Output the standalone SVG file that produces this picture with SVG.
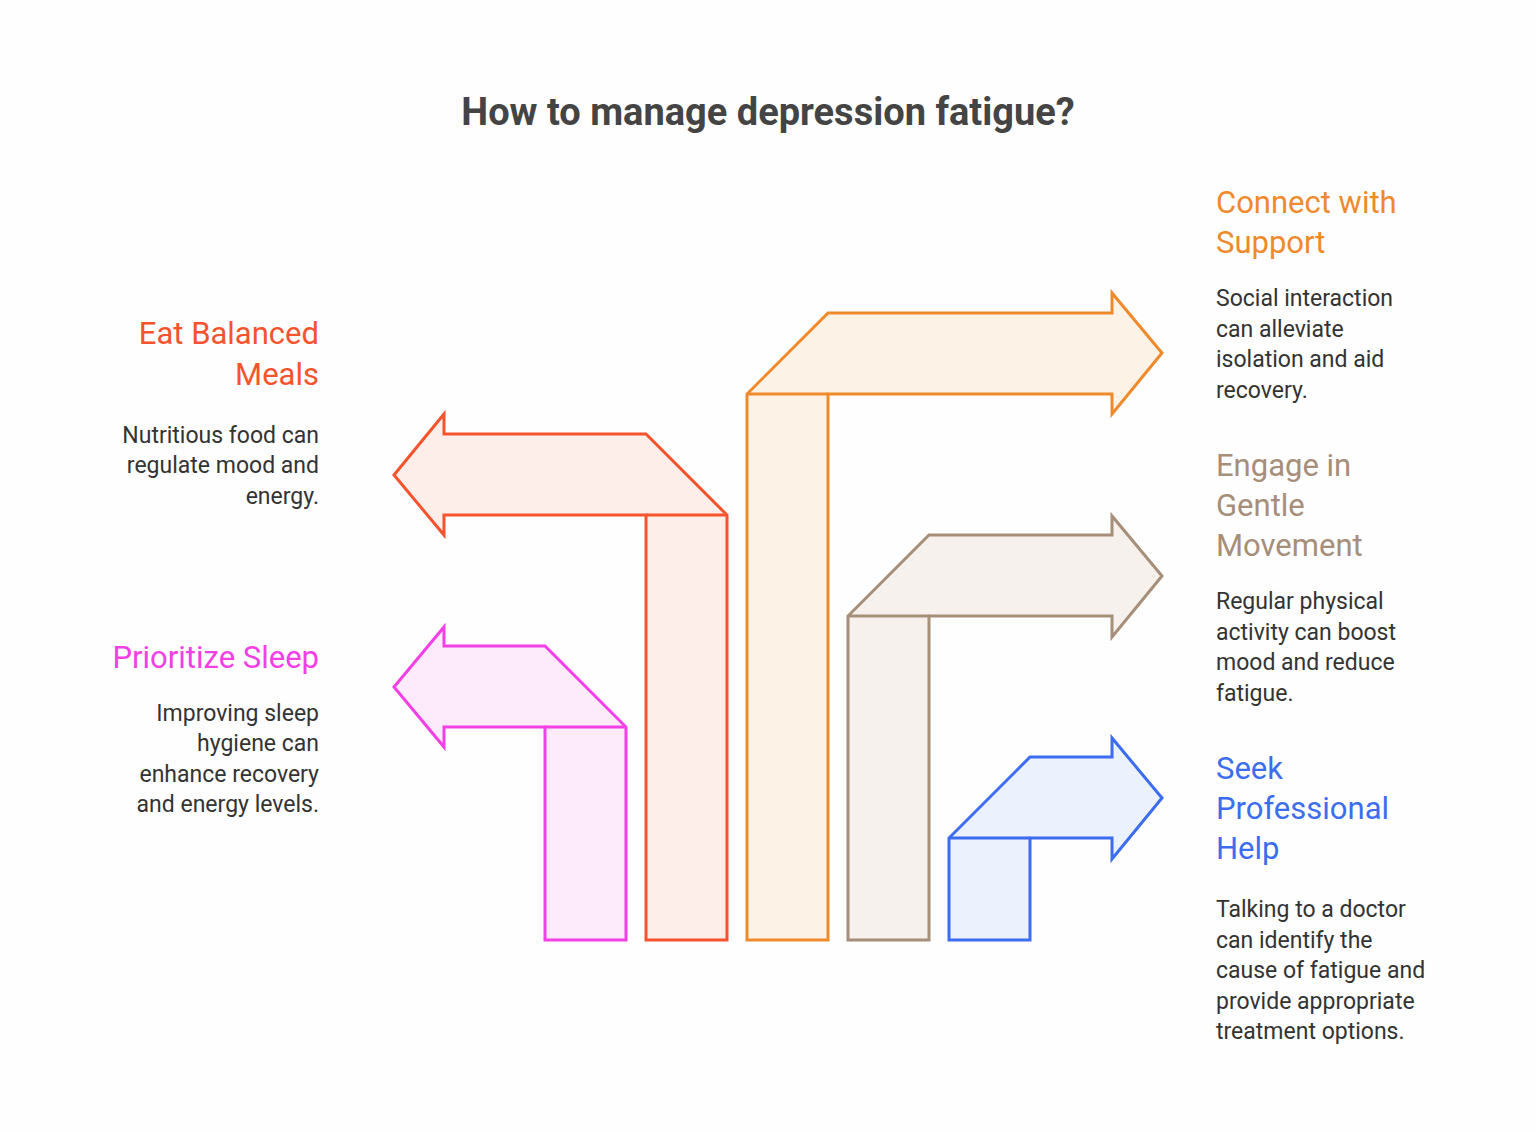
<svg xmlns="http://www.w3.org/2000/svg" width="1536" height="1132" viewBox="0 0 1536 1132">
<style>
text{font-family:Roboto,"Liberation Sans",sans-serif}
.t{font-size:38px;font-weight:bold;fill:#444}
.h{font-size:31px}
.b{font-size:23px;fill:#333}
.r{text-anchor:end}
.s{stroke-width:3;stroke-linejoin:miter}
</style>
<rect width="1536" height="1132" fill="#fefefe"/>
<text class="t" x="768" y="125" text-anchor="middle">How to manage depression fatigue?</text>
<g id="connectors">
<g id="sleep-arrow" class="s" stroke="#f23fe6" fill="#fdebfc">
<polygon points="394,687 444,627 444,646 545,646 626,727 626,940 545,940 545,727 444,727 444,747"/>
<line x1="545" y1="727" x2="626" y2="727"/></g>
<g id="meals-arrow" class="s" stroke="#f5532d" fill="#fdeeea">
<polygon points="394,475 444,414 444,434 646,434 727,515 727,940 646,940 646,515 444,515 444,535"/>
<line x1="646" y1="515" x2="727" y2="515"/></g>
<g id="support-arrow" class="s" stroke="#ef8a2c" fill="#fdf2e6">
<polygon points="1162,353 1112,293 1112,313 828,313 747,394 747,940 828,940 828,394 1112,394 1112,414"/>
<line x1="747" y1="394" x2="828" y2="394"/></g>
<g id="movement-arrow" class="s" stroke="#a68e79" fill="#f6f1ed">
<polygon points="1162,576 1112,516 1112,535 929,535 848,616 848,940 929,940 929,616 1112,616 1112,637"/>
<line x1="848" y1="616" x2="929" y2="616"/></g>
<g id="help-arrow" class="s" stroke="#3c6df0" fill="#ebf1fd">
<polygon points="1162,798 1112,738 1112,757 1030,757 949,838 949,940 1030,940 1030,838 1112,838 1112,859"/>
<line x1="949" y1="838" x2="1030" y2="838"/></g>
</g>
<g id="meals">
<text class="h r" fill="#f5532d" x="319" y="344">Eat Balanced</text>
<text class="h r" fill="#f5532d" x="319" y="385">Meals</text>
<text class="b r" x="319" y="443">Nutritious food can</text>
<text class="b r" x="319" y="473">regulate mood and</text>
<text class="b r" x="319" y="504">energy.</text>
</g>
<g id="sleep">
<text class="h r" fill="#f23fe6" x="319" y="668">Prioritize Sleep</text>
<text class="b r" x="319" y="721">Improving sleep</text>
<text class="b r" x="319" y="751">hygiene can</text>
<text class="b r" x="319" y="782">enhance recovery</text>
<text class="b r" x="319" y="812">and energy levels.</text>
</g>
<g id="support">
<text class="h" fill="#ef8a2c" x="1216" y="213">Connect with</text>
<text class="h" fill="#ef8a2c" x="1216" y="253">Support</text>
<text class="b" x="1216" y="306">Social interaction</text>
<text class="b" x="1216" y="337">can alleviate</text>
<text class="b" x="1216" y="367">isolation and aid</text>
<text class="b" x="1216" y="398">recovery.</text>
</g>
<g id="movement">
<text class="h" fill="#a68e79" x="1216" y="476">Engage in</text>
<text class="h" fill="#a68e79" x="1216" y="516">Gentle</text>
<text class="h" fill="#a68e79" x="1216" y="556">Movement</text>
<text class="b" x="1216" y="609">Regular physical</text>
<text class="b" x="1216" y="640">activity can boost</text>
<text class="b" x="1216" y="670">mood and reduce</text>
<text class="b" x="1216" y="701">fatigue.</text>
</g>
<g id="help">
<text class="h" fill="#3c6df0" x="1216" y="779">Seek</text>
<text class="h" fill="#3c6df0" x="1216" y="819">Professional</text>
<text class="h" fill="#3c6df0" x="1216" y="859">Help</text>
<text class="b" x="1216" y="917">Talking to a doctor</text>
<text class="b" x="1216" y="948">can identify the</text>
<text class="b" x="1216" y="978">cause of fatigue and</text>
<text class="b" x="1216" y="1009">provide appropriate</text>
<text class="b" x="1216" y="1039">treatment options.</text>
</g>
</svg>
